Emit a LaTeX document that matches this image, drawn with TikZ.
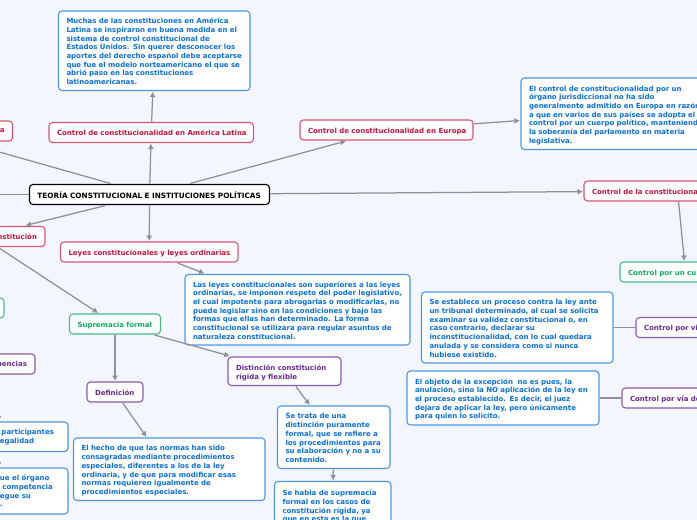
\documentclass[tikz,border=0pt]{standalone}
\usepackage{fontspec}
\setmainfont{DejaVu Sans}
\usetikzlibrary{arrows.meta}
\definecolor{bg}{HTML}{F3F6FF}
\definecolor{redc}{HTML}{C8143C}
\definecolor{redl}{HTML}{D8566F}
\definecolor{bluec}{HTML}{0A70DC}
\definecolor{bluel}{HTML}{4A97EA}
\definecolor{greenc}{HTML}{0FAE5F}
\definecolor{greenl}{HTML}{45BE82}
\definecolor{purc}{HTML}{6A2A94}
\definecolor{purl}{HTML}{8A5AAC}
\definecolor{lnc}{HTML}{8F9098}
\newcommand\tx[1]{\rlap{\raisebox{-1.7pt}[\height][\depth]{\begin{tabular}{@{}l@{}}#1\end{tabular}}}}
\tikzset{
  x=1pt,y=-1pt,
  box/.style n args={2}{rectangle,rounded corners=3.5pt,fill=white,line width=1.1pt,
    font=\fontsize{7}{8.7}\selectfont\bfseries,inner xsep=8pt,inner ysep=0pt,outer sep=1pt,
    minimum width=#1pt,minimum height=#2pt,text width=#1pt-16pt,align=left},
  redbox/.style n args={2}{box={#1}{#2},draw=redl,text=redc},
  bluebox/.style n args={2}{box={#1}{#2},draw=bluel,text=bluec},
  greenbox/.style n args={2}{box={#1}{#2},draw=greenl,text=greenc},
  purbox/.style n args={2}{box={#1}{#2},draw=purl,text=purc},
  mainbox/.style n args={2}{box={#1}{#2},draw=black,text=black,font=\fontsize{7.3}{8.7}\selectfont\bfseries},
  conn/.style={draw=lnc,line width=1.25pt},
  arr/.style={conn,-{Latex[length=5.5pt,width=6pt]}}
}
\begin{document}
\begin{tikzpicture}
\useasboundingbox (0,0) rectangle (697,520);
\clip (0,0) rectangle (697,520);
\fill[bg] (0,0) rectangle (697,520);
% nodes
\node[mainbox={240}{20}] (main) at (149.5,194.5) {\tx{TEORÍA CONSTITUCIONAL E INSTITUCIONES POLÍTICAS}};
\node[bluebox={191.5}{79.5}] (top) at (154.25,50.75) {\tx{Muchas de las constituciones en América\\Latina se inspiraron en buena medida en el\\sistema de control constitucional de\\Estados Unidos. Sin querer desconocer los\\aportes del derecho español debe aceptarse\\que fue el modelo norteamericano el que se\\abrió paso en las constituciones\\latinoamericanas.}};
\node[redbox={204.5}{20}] (amlat) at (151.25,132.5) {\tx{Control de constitucionalidad en América Latina}};
\node[redbox={173}{20}] (europa) at (386.5,130) {\tx{Control de constitucionalidad en Europa}};
\node[bluebox={191}{71.5}] (beur) at (616.5,113.75) {\tx{El control de constitucionalidad por un\\órgano jurisdiccional no ha sido\\generalmente admitido en Europa en razón\\a que en varios de sus países se adopta el\\control por un cuerpo político, manteniend\\la soberanía del parlamento en materia\\legislativa.}};
\node[redbox={187}{20}] (cont) at (677.5,191) {\tx{Control de la constitucionali}};
\node[greenbox={131}{20}] (cuerpo) at (685.5,272) {\tx{Control por un cu}};
\node[purbox={160}{20}] (pvi) at (716,327.5) {\tx{Control por vi}};
\node[purbox={160}{20}] (pvia) at (702,398) {\tx{Control por vía de}};
\node[bluebox={191.5}{71}] (bse) at (517.25,327.5) {\tx{Se establece un proceso contra la ley ante\\un tribunal determinado, al cual se solicita\\examinar su validez constitucional o, en\\caso contrario, declarar su\\inconstitucionalidad, con lo cual quedara\\anulada y se considera como si nunca\\hubiese existido.}};
\node[bluebox={192}{54}] (bob) at (503,398) {\tx{El objeto de la excepción\ \ no es pues, la\\anulación, sino la NO aplicación de la ley en\\el proceso establecido. Es decir, el juez\\dejara de aplicar la ley, pero únicamente\\para quien lo solicito.}};
\node[redbox={177.5}{20}] (leyes) at (149.25,252) {\tx{Leyes constitucionales y leyes ordinarias}};
\node[bluebox={225}{70.5}] (blas) at (297.5,309.75) {\tx{Las leyes constitucionales son superiores a las leyes\\ordinarias, se imponen respeto del poder legislativo,\\el cual impotente para abrogarlas o modificarlas, no\\puede legislar sino en las condiciones y bajo las\\formas que ellas han determinado. La forma\\constitucional se utilizara para regular asuntos de\\naturaleza constitucional.}};
\node[purbox={113}{28.5}] (dist) at (284.5,371.25) {\tx{Distinción constitución\\rígida y flexible}};
\node[bluebox={112.5}{62.5}] (btrata) at (333.75,437.25) {\tx{Se trata de una\\distinción puramente\\formal, que se refiere a\\los procedimientos para\\su elaboración y no a su\\contenido.}};
\node[bluebox={116.5}{48},anchor=north] (bhabla) at (332.75,480.5) {\tx{Se habla de supremacía\\formal en los casos de\\constitución rígida, ya\\que en esta es la que}};
\node[greenbox={91}{20}] (sup) at (115,324) {\tx{Supremacía formal}};
\node[purbox={56}{20}] (def) at (115,392) {\tx{Definición}};
\node[bluebox={191.5}{62.5}] (bhecho) at (169.25,469.25) {\tx{El hecho de que las normas han sido\\consagradas mediante procedimientos\\especiales, diferentes a los de la ley\\ordinaria, y de que para modificar esas\\normas requieren igualmente de\\procedimientos especiales.}};
\node[redbox={175}{20},align=right] (la) at (-75,131) {a};
\node[redbox={127}{20},align=right] (cons) at (-18.5,236.5) {nstitución};
\node[greenbox={60}{20}] (lg) at (-26,308) {};
\node[purbox={100}{20},align=right] (cons2) at (-15,364) {uencias};
\node[bluebox={168}{29.5}] (lb1) at (-16,436.75) {\hspace*{93.5pt}participantes\\\hspace*{92pt}egalidad};
\node[bluebox={168}{46}] (lb2) at (-16,491) {\hspace*{92pt}ue el órgano\\\hspace*{94.5pt}competencia\\\hspace*{92pt}egue su\\\hspace*{92pt}.};
% free ends
\coordinate (s1a) at (-3,416);
\coordinate (s1b) at (1,417);
\coordinate (s2a) at (-3,462);
\coordinate (s2b) at (1,463);
% connectors
\draw[arr] (main) -- (amlat);
\draw[arr] (amlat) -- (top);
\draw[arr] (main) -- (europa);
\draw[arr] (europa) -- (beur);
\draw[arr] (main) -- (cont);
\draw[arr] (cont) -- (cuerpo);
\draw[arr] (main) -- (leyes);
\draw[arr] (leyes) -- (blas);
\draw[arr] (main) -- (cons);
\draw[conn] (main) -- (la);
\coordinate (lft) at (-20,194.5);
\draw[conn] (main) -- (lft);
\draw[arr] (cons) -- (sup);
\draw[arr] (sup) -- (def);
\draw[arr] (sup) -- (dist);
\draw[arr] (def) -- (bhecho);
\draw[arr] (dist) -- (btrata);
\draw[arr] (btrata) -- (bhabla);
\draw[conn] (pvi) -- (bse);
\draw[conn] (pvia) -- (bob);
\draw[conn] (s1a) -- (s1b);
\draw[conn] (s2a) -- (s2b);
\end{tikzpicture}
\end{document}
